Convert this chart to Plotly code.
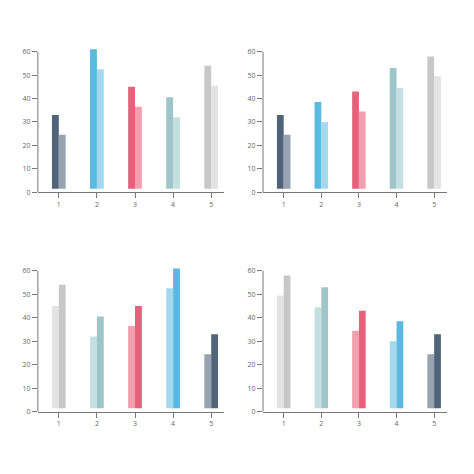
import plotly.graph_objects as go

categories = [1, 2, 3, 4, 5]
base = 1.5
tl_a = [33, 61, 45, 40.5, 54]
tl_b = [24.5, 52.5, 36.5, 32, 45.5]
tr_a = [33, 38.5, 43, 53, 58]
tr_b = [24.5, 30, 34.5, 44.5, 49.5]
bl_a = [45, 32, 36.5, 52.5, 24.5]
bl_b = [54, 40.5, 45, 61, 33]
br_a = [49.5, 44.5, 34.5, 30, 24.5]
br_b = [58, 53, 43, 38.5, 33]
dark = ["#4f6479", "#5bb8e0", "#e8607a", "#9ec5c7", "#c7c7c7"]
light = ["#97a3b0", "#a3d8ef", "#f2a0b0", "#c5dfe0", "#e3e3e3"]

fig = go.Figure()
panels = [
    (tl_a, dark, tl_b, light, "x", "y"),
    (tr_a, dark, tr_b, light, "x2", "y2"),
    (bl_a, light[::-1], bl_b, dark[::-1], "x3", "y3"),
    (br_a, light[::-1], br_b, dark[::-1], "x4", "y4"),
]
for a, ca, b, cb, xa, ya in panels:
    fig.add_bar(x=categories, y=[v - base for v in a], base=base, width=0.18, offset=-0.18,
                marker=dict(color=ca, line_width=0), xaxis=xa, yaxis=ya, showlegend=False)
    fig.add_bar(x=categories, y=[v - base for v in b], base=base, width=0.18, offset=0,
                marker=dict(color=cb, line_width=0), xaxis=xa, yaxis=ya, showlegend=False)

doms_x = [[0.063, 0.456], [0.538, 0.926], [0.063, 0.456], [0.538, 0.926]]
doms_y = [[0.608, 0.917], [0.608, 0.917], [0.141, 0.451], [0.141, 0.451]]
font = dict(family="Open Sans", size=7, color="#666")
lay = dict(plot_bgcolor="white", paper_bgcolor="white", width=474, height=474,
           margin=dict(l=0, r=0, t=0, b=0), barmode="overlay")
for i in range(4):
    s = "" if i == 0 else str(i + 1)
    lay["xaxis" + s] = dict(domain=doms_x[i], range=[0.45, 5.34], anchor="y" + s,
                            tickvals=categories, ticks="outside", ticklen=5, tickcolor="#777",
                            showline=True, linecolor="#777", linewidth=1, showgrid=False,
                            tickfont=font, zeroline=False, fixedrange=True)
    lay["yaxis" + s] = dict(domain=doms_y[i], range=[0, 62], anchor="x" + s,
                            tickvals=[0, 10, 20, 30, 40, 50, 60], ticks="outside", ticklen=5,
                            tickcolor="#777", showline=False, showgrid=False, zeroline=False,
                            tickfont=font)
fig.update_layout(**lay)
for i in range(4):
    s = "" if i == 0 else str(i + 1)
    fig.add_shape(type="line", xref="x" + s + " domain", yref="y" + s, x0=0, x1=0, y0=0, y1=60,
                  line=dict(color="#777", width=1))
fig.write_html("out.html")
